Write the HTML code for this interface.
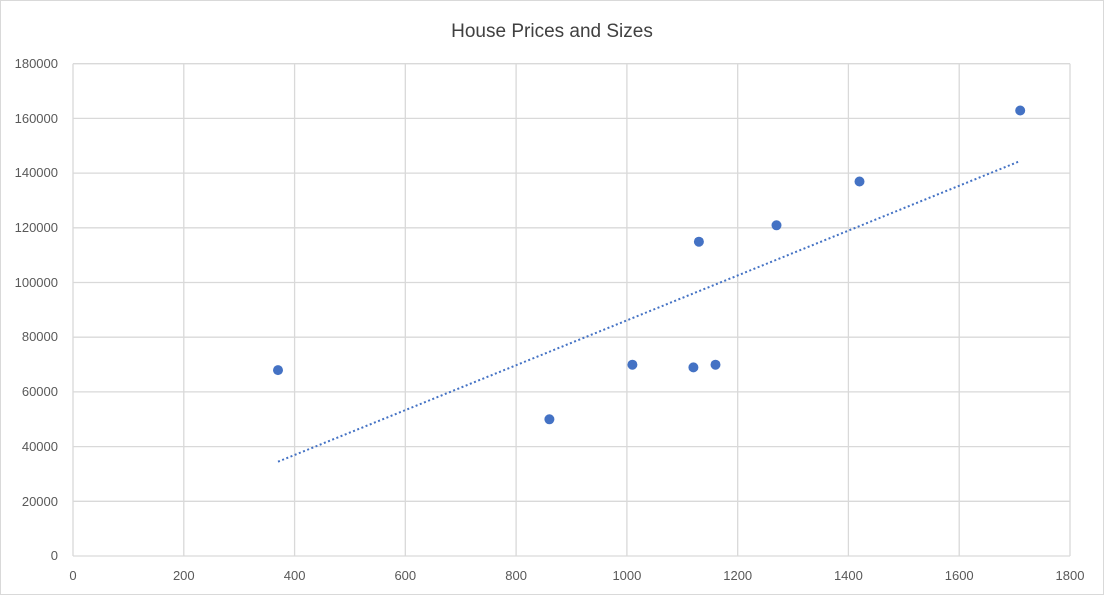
<!DOCTYPE html>
<html><head><meta charset="utf-8"><style>
body{margin:0;background:#fff;}
svg{display:block;font-family:"Liberation Sans",sans-serif;}
</style></head><body>
<svg width="1104" height="595" viewBox="0 0 1104 595" xmlns="http://www.w3.org/2000/svg">
<rect x="0.5" y="0.5" width="1103" height="594" fill="#fff" stroke="#d9d9d9"/>
<text x="552" y="37" text-anchor="middle" font-size="19" fill="#404040">House Prices and Sizes</text>
<g stroke="#d9d9d9" stroke-width="1.3" fill="none">
<line x1="73" y1="63.7" x2="1070" y2="63.7"/>
<line x1="73" y1="118.4" x2="1070" y2="118.4"/>
<line x1="73" y1="173.1" x2="1070" y2="173.1"/>
<line x1="73" y1="227.8" x2="1070" y2="227.8"/>
<line x1="73" y1="282.5" x2="1070" y2="282.5"/>
<line x1="73" y1="337.2" x2="1070" y2="337.2"/>
<line x1="73" y1="391.9" x2="1070" y2="391.9"/>
<line x1="73" y1="446.6" x2="1070" y2="446.6"/>
<line x1="73" y1="501.3" x2="1070" y2="501.3"/>
<line x1="73" y1="556" x2="1070" y2="556"/>
<line x1="73" y1="63.7" x2="73" y2="556"/>
<line x1="183.8" y1="63.7" x2="183.8" y2="556"/>
<line x1="294.6" y1="63.7" x2="294.6" y2="556"/>
<line x1="405.3" y1="63.7" x2="405.3" y2="556"/>
<line x1="516.1" y1="63.7" x2="516.1" y2="556"/>
<line x1="626.9" y1="63.7" x2="626.9" y2="556"/>
<line x1="737.7" y1="63.7" x2="737.7" y2="556"/>
<line x1="848.4" y1="63.7" x2="848.4" y2="556"/>
<line x1="959.2" y1="63.7" x2="959.2" y2="556"/>
<line x1="1070" y1="63.7" x2="1070" y2="556"/>
</g>
<g font-size="13" fill="#595959" text-anchor="end">
<text x="58" y="68">180000</text>
<text x="58" y="123">160000</text>
<text x="58" y="177">140000</text>
<text x="58" y="232">120000</text>
<text x="58" y="287">100000</text>
<text x="58" y="341">80000</text>
<text x="58" y="396">60000</text>
<text x="58" y="451">40000</text>
<text x="58" y="506">20000</text>
<text x="58" y="560">0</text>
</g>
<g font-size="13" fill="#595959" text-anchor="middle">
<text x="73" y="580">0</text>
<text x="183.8" y="580">200</text>
<text x="294.6" y="580">400</text>
<text x="405.3" y="580">600</text>
<text x="516.1" y="580">800</text>
<text x="626.9" y="580">1000</text>
<text x="737.7" y="580">1200</text>
<text x="848.4" y="580">1400</text>
<text x="959.2" y="580">1600</text>
<text x="1070" y="580">1800</text>
</g>
<line x1="278" y1="461.7" x2="1020.2" y2="161" stroke="#4472c4" stroke-width="2" stroke-dasharray="2 2.5"/>
<g fill="#4472c4">
<circle cx="278" cy="370.1" r="5"/>
<circle cx="549.4" cy="419.3" r="5"/>
<circle cx="632.4" cy="364.7" r="5"/>
<circle cx="693.4" cy="367.4" r="5"/>
<circle cx="698.9" cy="241.7" r="5"/>
<circle cx="715.5" cy="364.7" r="5"/>
<circle cx="776.5" cy="225.3" r="5"/>
<circle cx="859.5" cy="181.5" r="5"/>
<circle cx="1020.2" cy="110.5" r="5"/>
</g>
</svg>
</body></html>
